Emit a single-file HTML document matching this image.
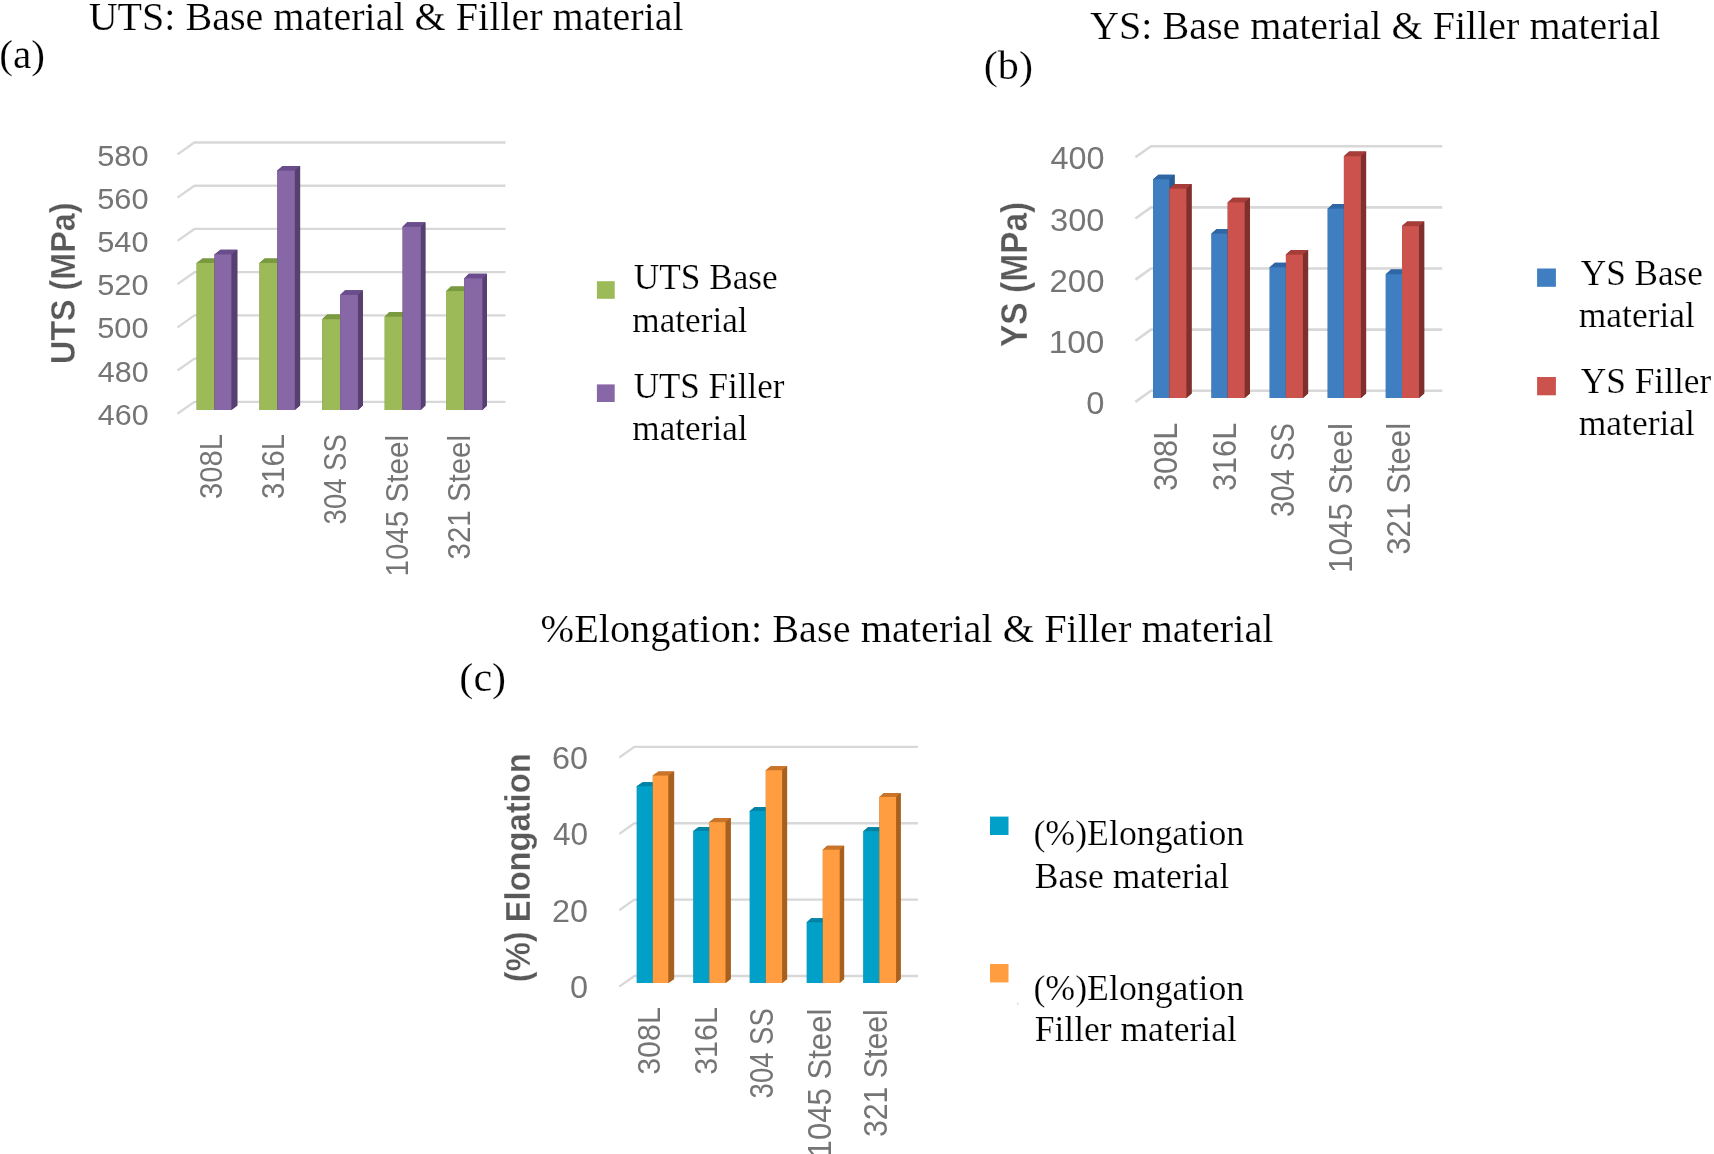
<!DOCTYPE html>
<html><head><meta charset="utf-8"><title>Figure</title>
<style>html,body{margin:0;padding:0;background:#fff;overflow:hidden}svg{display:block}#fig{filter:blur(0.45px)}</style></head>
<body><svg width="1714" height="1154" viewBox="0 0 1714 1154">
<rect width="1714" height="1154" fill="#fff"/>
<g id="fig">
<polyline points="177.50,154.40 194.40,142.50 505.50,142.50" fill="none" stroke="#d8d8d8" stroke-width="2.3" stroke-linejoin="round"/>
<polyline points="177.50,197.63 194.40,185.73 505.50,185.73" fill="none" stroke="#d8d8d8" stroke-width="2.3" stroke-linejoin="round"/>
<polyline points="177.50,240.86 194.40,228.96 505.50,228.96" fill="none" stroke="#d8d8d8" stroke-width="2.3" stroke-linejoin="round"/>
<polyline points="177.50,284.09 194.40,272.19 505.50,272.19" fill="none" stroke="#d8d8d8" stroke-width="2.3" stroke-linejoin="round"/>
<polyline points="177.50,327.32 194.40,315.42 505.50,315.42" fill="none" stroke="#d8d8d8" stroke-width="2.3" stroke-linejoin="round"/>
<polyline points="177.50,370.55 194.40,358.65 505.50,358.65" fill="none" stroke="#d8d8d8" stroke-width="2.3" stroke-linejoin="round"/>
<polyline points="177.50,413.78 194.40,401.88 505.50,401.88" fill="none" stroke="#d8d8d8" stroke-width="2.3" stroke-linejoin="round"/>
<polygon points="196.60,263.00 202.50,258.40 220.40,258.40 220.40,405.40 214.50,410.00 196.60,410.00" fill="#6f8a3a"/>
<polygon points="213.90,263.00 214.50,263.00 220.40,258.40 220.40,405.40 214.50,410.00 213.90,410.00" fill="#6f8a3a"/>
<polygon points="196.60,263.60 196.60,263.00 202.50,258.40 220.40,258.40 214.50,263.00 214.50,263.60" fill="#7a9a40"/>
<rect x="196.60" y="263.00" width="17.90" height="147.00" fill="#9dba59"/>
<polygon points="214.50,254.40 220.40,249.80 237.30,249.80 237.30,405.40 231.40,410.00 214.50,410.00" fill="#573f70"/>
<polygon points="230.80,254.40 231.40,254.40 237.30,249.80 237.30,405.40 231.40,410.00 230.80,410.00" fill="#573f70"/>
<polygon points="214.50,255.00 214.50,254.40 220.40,249.80 237.30,249.80 231.40,254.40 231.40,255.00" fill="#6a4d8c"/>
<rect x="214.50" y="254.40" width="16.90" height="155.60" fill="#8867a6"/>
<polygon points="259.40,263.00 264.70,258.40 282.60,258.40 282.60,405.40 277.30,410.00 259.40,410.00" fill="#6f8a3a"/>
<polygon points="276.70,263.00 277.30,263.00 282.60,258.40 282.60,405.40 277.30,410.00 276.70,410.00" fill="#6f8a3a"/>
<polygon points="259.40,263.60 259.40,263.00 264.70,258.40 282.60,258.40 277.30,263.00 277.30,263.60" fill="#7a9a40"/>
<rect x="259.40" y="263.00" width="17.90" height="147.00" fill="#9dba59"/>
<polygon points="277.30,170.60 282.60,166.00 300.10,166.00 300.10,405.40 294.80,410.00 277.30,410.00" fill="#573f70"/>
<polygon points="294.20,170.60 294.80,170.60 300.10,166.00 300.10,405.40 294.80,410.00 294.20,410.00" fill="#573f70"/>
<polygon points="277.30,171.20 277.30,170.60 282.60,166.00 300.10,166.00 294.80,170.60 294.80,171.20" fill="#6a4d8c"/>
<rect x="277.30" y="170.60" width="17.50" height="239.40" fill="#8867a6"/>
<polygon points="322.20,319.20 327.20,314.60 345.10,314.60 345.10,405.40 340.10,410.00 322.20,410.00" fill="#6f8a3a"/>
<polygon points="339.50,319.20 340.10,319.20 345.10,314.60 345.10,405.40 340.10,410.00 339.50,410.00" fill="#6f8a3a"/>
<polygon points="322.20,319.80 322.20,319.20 327.20,314.60 345.10,314.60 340.10,319.20 340.10,319.80" fill="#7a9a40"/>
<rect x="322.20" y="319.20" width="17.90" height="90.80" fill="#9dba59"/>
<polygon points="340.10,294.90 345.10,290.30 362.90,290.30 362.90,405.40 357.90,410.00 340.10,410.00" fill="#573f70"/>
<polygon points="357.30,294.90 357.90,294.90 362.90,290.30 362.90,405.40 357.90,410.00 357.30,410.00" fill="#573f70"/>
<polygon points="340.10,295.50 340.10,294.90 345.10,290.30 362.90,290.30 357.90,294.90 357.90,295.50" fill="#6a4d8c"/>
<rect x="340.10" y="294.90" width="17.80" height="115.10" fill="#8867a6"/>
<polygon points="384.70,316.70 389.30,312.10 407.20,312.10 407.20,405.40 402.60,410.00 384.70,410.00" fill="#6f8a3a"/>
<polygon points="402.00,316.70 402.60,316.70 407.20,312.10 407.20,405.40 402.60,410.00 402.00,410.00" fill="#6f8a3a"/>
<polygon points="384.70,317.30 384.70,316.70 389.30,312.10 407.20,312.10 402.60,316.70 402.60,317.30" fill="#7a9a40"/>
<rect x="384.70" y="316.70" width="17.90" height="93.30" fill="#9dba59"/>
<polygon points="402.60,226.80 407.20,222.20 425.40,222.20 425.40,405.40 420.80,410.00 402.60,410.00" fill="#573f70"/>
<polygon points="420.20,226.80 420.80,226.80 425.40,222.20 425.40,405.40 420.80,410.00 420.20,410.00" fill="#573f70"/>
<polygon points="402.60,227.40 402.60,226.80 407.20,222.20 425.40,222.20 420.80,226.80 420.80,227.40" fill="#6a4d8c"/>
<rect x="402.60" y="226.80" width="18.20" height="183.20" fill="#8867a6"/>
<polygon points="446.30,291.10 450.90,286.50 468.80,286.50 468.80,405.40 464.20,410.00 446.30,410.00" fill="#6f8a3a"/>
<polygon points="463.60,291.10 464.20,291.10 468.80,286.50 468.80,405.40 464.20,410.00 463.60,410.00" fill="#6f8a3a"/>
<polygon points="446.30,291.70 446.30,291.10 450.90,286.50 468.80,286.50 464.20,291.10 464.20,291.70" fill="#7a9a40"/>
<rect x="446.30" y="291.10" width="17.90" height="118.90" fill="#9dba59"/>
<polygon points="464.20,278.40 468.80,273.80 487.00,273.80 487.00,405.40 482.40,410.00 464.20,410.00" fill="#573f70"/>
<polygon points="481.80,278.40 482.40,278.40 487.00,273.80 487.00,405.40 482.40,410.00 481.80,410.00" fill="#573f70"/>
<polygon points="464.20,279.00 464.20,278.40 468.80,273.80 487.00,273.80 482.40,278.40 482.40,279.00" fill="#6a4d8c"/>
<rect x="464.20" y="278.40" width="18.20" height="131.60" fill="#8867a6"/>
<text transform="translate(97.27 165.50) scale(1.0390 1)" font-family='"Liberation Sans", sans-serif' font-size="29.60" fill="#757575">580</text>
<text transform="translate(97.27 208.70) scale(1.0390 1)" font-family='"Liberation Sans", sans-serif' font-size="29.60" fill="#757575">560</text>
<text transform="translate(97.27 251.90) scale(1.0390 1)" font-family='"Liberation Sans", sans-serif' font-size="29.60" fill="#757575">540</text>
<text transform="translate(97.27 295.10) scale(1.0390 1)" font-family='"Liberation Sans", sans-serif' font-size="29.60" fill="#757575">520</text>
<text transform="translate(97.27 338.30) scale(1.0390 1)" font-family='"Liberation Sans", sans-serif' font-size="29.60" fill="#757575">500</text>
<text transform="translate(97.79 381.50) scale(1.0282 1)" font-family='"Liberation Sans", sans-serif' font-size="29.60" fill="#757575">480</text>
<text transform="translate(97.79 424.70) scale(1.0282 1)" font-family='"Liberation Sans", sans-serif' font-size="29.60" fill="#757575">460</text>
<text transform="translate(221.80 499.07) rotate(-90) scale(0.9126 1)" font-family='"Liberation Sans", sans-serif' font-size="32.01" fill="#757575">308L</text>
<text transform="translate(284.10 499.07) rotate(-90) scale(0.9126 1)" font-family='"Liberation Sans", sans-serif' font-size="32.01" fill="#757575">316L</text>
<text transform="translate(346.20 524.41) rotate(-90) scale(0.8630 1)" font-family='"Liberation Sans", sans-serif' font-size="31.87" fill="#757575">304 SS</text>
<text transform="translate(408.00 576.57) rotate(-90) scale(0.9293 1)" font-family='"Liberation Sans", sans-serif' font-size="31.87" fill="#757575">1045 Steel</text>
<text transform="translate(469.90 559.38) rotate(-90) scale(0.9198 1)" font-family='"Liberation Sans", sans-serif' font-size="32.01" fill="#757575">321 Steel</text>
<text transform="translate(74.80 363.94) rotate(-90) scale(0.9244 1)" font-family='"Liberation Sans", sans-serif' font-size="34.95" font-weight="700" stroke="#fff" stroke-width="0.3" fill="#595959">UTS (MPa)</text>
<text transform="translate(88.70 29.60) scale(1.0145 1)" font-family='"Liberation Serif", serif' font-size="39.50" stroke="#fff" stroke-width="0.2" fill="#000">UTS: Base material &amp; Filler material</text>
<text transform="translate(-0.79 68.30) scale(1.0440 1)" font-family='"Liberation Serif", serif' font-size="39.50" stroke="#fff" stroke-width="0.2" fill="#000">(a)</text>
<rect x="596.9" y="281.2" width="17.8" height="17.6" fill="#9dba59"/>
<rect x="596.9" y="384.4" width="17.8" height="17.6" fill="#8867a6"/>
<text transform="translate(633.69 289.30) scale(0.9996 1)" font-family='"Liberation Serif", serif' font-size="35.30" stroke="#fff" stroke-width="0.2" fill="#000">UTS Base</text>
<text transform="translate(632.30 331.80) scale(0.9978 1)" font-family='"Liberation Serif", serif' font-size="35.30" stroke="#fff" stroke-width="0.2" fill="#000">material</text>
<text transform="translate(633.70 397.50) scale(0.9918 1)" font-family='"Liberation Serif", serif' font-size="35.30" stroke="#fff" stroke-width="0.2" fill="#000">UTS Filler</text>
<text transform="translate(632.30 440.00) scale(0.9978 1)" font-family='"Liberation Serif", serif' font-size="35.30" stroke="#fff" stroke-width="0.2" fill="#000">material</text>
<polyline points="1135.40,157.30 1151.00,146.20 1442.25,146.20" fill="none" stroke="#d8d8d8" stroke-width="2.6" stroke-linejoin="round"/>
<polyline points="1135.40,218.45 1151.00,207.35 1442.25,207.35" fill="none" stroke="#d8d8d8" stroke-width="2.6" stroke-linejoin="round"/>
<polyline points="1135.40,279.60 1151.00,268.50 1442.25,268.50" fill="none" stroke="#d8d8d8" stroke-width="2.6" stroke-linejoin="round"/>
<polyline points="1135.40,340.75 1151.00,329.65 1442.25,329.65" fill="none" stroke="#d8d8d8" stroke-width="2.6" stroke-linejoin="round"/>
<polyline points="1135.40,401.90 1151.00,390.80 1442.25,390.80" fill="none" stroke="#d8d8d8" stroke-width="2.6" stroke-linejoin="round"/>
<polygon points="1153.20,179.30 1158.40,174.70 1174.60,174.70 1174.60,393.40 1169.40,398.00 1153.20,398.00" fill="#2a5a92"/>
<polygon points="1168.80,179.30 1169.40,179.30 1174.60,174.70 1174.60,393.40 1169.40,398.00 1168.80,398.00" fill="#2a5a92"/>
<polygon points="1153.20,179.90 1153.20,179.30 1158.40,174.70 1174.60,174.70 1169.40,179.30 1169.40,179.90" fill="#2f66a6"/>
<rect x="1153.20" y="179.30" width="16.20" height="218.70" fill="#3f7fc1"/>
<polygon points="1169.40,188.60 1174.60,184.00 1191.60,184.00 1191.60,393.40 1186.40,398.00 1169.40,398.00" fill="#7f2f2c"/>
<polygon points="1185.80,188.60 1186.40,188.60 1191.60,184.00 1191.60,393.40 1186.40,398.00 1185.80,398.00" fill="#7f2f2c"/>
<polygon points="1169.40,189.20 1169.40,188.60 1174.60,184.00 1191.60,184.00 1186.40,188.60 1186.40,189.20" fill="#a63d39"/>
<rect x="1169.40" y="188.60" width="17.00" height="209.40" fill="#cc524d"/>
<polygon points="1211.50,233.60 1216.70,229.00 1232.90,229.00 1232.90,393.40 1227.70,398.00 1211.50,398.00" fill="#2a5a92"/>
<polygon points="1227.10,233.60 1227.70,233.60 1232.90,229.00 1232.90,393.40 1227.70,398.00 1227.10,398.00" fill="#2a5a92"/>
<polygon points="1211.50,234.20 1211.50,233.60 1216.70,229.00 1232.90,229.00 1227.70,233.60 1227.70,234.20" fill="#2f66a6"/>
<rect x="1211.50" y="233.60" width="16.20" height="164.40" fill="#3f7fc1"/>
<polygon points="1227.70,202.40 1232.90,197.80 1249.90,197.80 1249.90,393.40 1244.70,398.00 1227.70,398.00" fill="#7f2f2c"/>
<polygon points="1244.10,202.40 1244.70,202.40 1249.90,197.80 1249.90,393.40 1244.70,398.00 1244.10,398.00" fill="#7f2f2c"/>
<polygon points="1227.70,203.00 1227.70,202.40 1232.90,197.80 1249.90,197.80 1244.70,202.40 1244.70,203.00" fill="#a63d39"/>
<rect x="1227.70" y="202.40" width="17.00" height="195.60" fill="#cc524d"/>
<polygon points="1269.70,267.30 1274.90,262.70 1291.10,262.70 1291.10,393.40 1285.90,398.00 1269.70,398.00" fill="#2a5a92"/>
<polygon points="1285.30,267.30 1285.90,267.30 1291.10,262.70 1291.10,393.40 1285.90,398.00 1285.30,398.00" fill="#2a5a92"/>
<polygon points="1269.70,267.90 1269.70,267.30 1274.90,262.70 1291.10,262.70 1285.90,267.30 1285.90,267.90" fill="#2f66a6"/>
<rect x="1269.70" y="267.30" width="16.20" height="130.70" fill="#3f7fc1"/>
<polygon points="1285.90,254.60 1291.10,250.00 1308.10,250.00 1308.10,393.40 1302.90,398.00 1285.90,398.00" fill="#7f2f2c"/>
<polygon points="1302.30,254.60 1302.90,254.60 1308.10,250.00 1308.10,393.40 1302.90,398.00 1302.30,398.00" fill="#7f2f2c"/>
<polygon points="1285.90,255.20 1285.90,254.60 1291.10,250.00 1308.10,250.00 1302.90,254.60 1302.90,255.20" fill="#a63d39"/>
<rect x="1285.90" y="254.60" width="17.00" height="143.40" fill="#cc524d"/>
<polygon points="1327.70,208.70 1332.90,204.10 1349.10,204.10 1349.10,393.40 1343.90,398.00 1327.70,398.00" fill="#2a5a92"/>
<polygon points="1343.30,208.70 1343.90,208.70 1349.10,204.10 1349.10,393.40 1343.90,398.00 1343.30,398.00" fill="#2a5a92"/>
<polygon points="1327.70,209.30 1327.70,208.70 1332.90,204.10 1349.10,204.10 1343.90,208.70 1343.90,209.30" fill="#2f66a6"/>
<rect x="1327.70" y="208.70" width="16.20" height="189.30" fill="#3f7fc1"/>
<polygon points="1343.90,156.20 1349.10,151.60 1366.10,151.60 1366.10,393.40 1360.90,398.00 1343.90,398.00" fill="#7f2f2c"/>
<polygon points="1360.30,156.20 1360.90,156.20 1366.10,151.60 1366.10,393.40 1360.90,398.00 1360.30,398.00" fill="#7f2f2c"/>
<polygon points="1343.90,156.80 1343.90,156.20 1349.10,151.60 1366.10,151.60 1360.90,156.20 1360.90,156.80" fill="#a63d39"/>
<rect x="1343.90" y="156.20" width="17.00" height="241.80" fill="#cc524d"/>
<polygon points="1385.80,274.20 1391.00,269.60 1407.20,269.60 1407.20,393.40 1402.00,398.00 1385.80,398.00" fill="#2a5a92"/>
<polygon points="1401.40,274.20 1402.00,274.20 1407.20,269.60 1407.20,393.40 1402.00,398.00 1401.40,398.00" fill="#2a5a92"/>
<polygon points="1385.80,274.80 1385.80,274.20 1391.00,269.60 1407.20,269.60 1402.00,274.20 1402.00,274.80" fill="#2f66a6"/>
<rect x="1385.80" y="274.20" width="16.20" height="123.80" fill="#3f7fc1"/>
<polygon points="1402.00,226.10 1407.20,221.50 1424.20,221.50 1424.20,393.40 1419.00,398.00 1402.00,398.00" fill="#7f2f2c"/>
<polygon points="1418.40,226.10 1419.00,226.10 1424.20,221.50 1424.20,393.40 1419.00,398.00 1418.40,398.00" fill="#7f2f2c"/>
<polygon points="1402.00,226.70 1402.00,226.10 1407.20,221.50 1424.20,221.50 1419.00,226.10 1419.00,226.70" fill="#a63d39"/>
<rect x="1402.00" y="226.10" width="17.00" height="171.90" fill="#cc524d"/>
<text transform="translate(1050.44 169.40) scale(1.0275 1)" font-family='"Liberation Sans", sans-serif' font-size="31.50" fill="#757575">400</text>
<text transform="translate(1050.00 230.50) scale(1.0361 1)" font-family='"Liberation Sans", sans-serif' font-size="31.50" fill="#757575">300</text>
<text transform="translate(1049.55 291.60) scale(1.0448 1)" font-family='"Liberation Sans", sans-serif' font-size="31.50" fill="#757575">200</text>
<text transform="translate(1048.63 352.70) scale(1.0627 1)" font-family='"Liberation Sans", sans-serif' font-size="31.50" fill="#757575">100</text>
<text transform="translate(1086.30 413.80) scale(1.0384 1)" font-family='"Liberation Sans", sans-serif' font-size="31.50" fill="#757575">0</text>
<text transform="translate(1177.20 491.03) rotate(-90) scale(0.9504 1)" font-family='"Liberation Sans", sans-serif' font-size="32.30" fill="#757575">308L</text>
<text transform="translate(1235.80 491.03) rotate(-90) scale(0.9379 1)" font-family='"Liberation Sans", sans-serif' font-size="32.73" fill="#757575">316L</text>
<text transform="translate(1293.60 517.05) rotate(-90) scale(0.8824 1)" font-family='"Liberation Sans", sans-serif' font-size="32.44" fill="#757575">304 SS</text>
<text transform="translate(1351.50 572.90) rotate(-90) scale(0.9709 1)" font-family='"Liberation Sans", sans-serif' font-size="32.30" fill="#757575">1045 Steel</text>
<text transform="translate(1409.80 554.74) rotate(-90) scale(0.9530 1)" font-family='"Liberation Sans", sans-serif' font-size="32.73" fill="#757575">321 Steel</text>
<text transform="translate(1026.60 347.06) rotate(-90) scale(0.9212 1)" font-family='"Liberation Sans", sans-serif' font-size="36.41" font-weight="700" stroke="#fff" stroke-width="0.3" fill="#595959">YS (MPa)</text>
<text transform="translate(1090.10 38.75) scale(1.0015 1)" font-family='"Liberation Serif", serif' font-size="40.00" stroke="#fff" stroke-width="0.2" fill="#000">YS: Base material &amp; Filler material</text>
<text transform="translate(983.77 78.75) scale(1.0826 1)" font-family='"Liberation Serif", serif' font-size="39.00" stroke="#fff" stroke-width="0.2" fill="#000">(b)</text>
<rect x="1537.1" y="268.5" width="18.8" height="18.3" fill="#3f7fc1"/>
<rect x="1537.1" y="377" width="18.8" height="18.3" fill="#cc524d"/>
<text transform="translate(1580.75 285.00) scale(0.9969 1)" font-family='"Liberation Serif", serif' font-size="35.30" stroke="#fff" stroke-width="0.2" fill="#000">YS Base</text>
<text transform="translate(1578.69 327.40) scale(1.0057 1)" font-family='"Liberation Serif", serif' font-size="35.30" stroke="#fff" stroke-width="0.2" fill="#000">material</text>
<text transform="translate(1580.75 392.60) scale(1.0000 1)" font-family='"Liberation Serif", serif' font-size="35.30" stroke="#fff" stroke-width="0.2" fill="#000">YS Filler</text>
<text transform="translate(1578.69 435.00) scale(1.0057 1)" font-family='"Liberation Serif", serif' font-size="35.30" stroke="#fff" stroke-width="0.2" fill="#000">material</text>
<polyline points="619.30,757.50 634.30,746.90 918.00,746.90" fill="none" stroke="#d8d8d8" stroke-width="2.3" stroke-linejoin="round"/>
<polyline points="619.30,833.87 634.30,823.27 918.00,823.27" fill="none" stroke="#d8d8d8" stroke-width="2.3" stroke-linejoin="round"/>
<polyline points="619.30,910.24 634.30,899.64 918.00,899.64" fill="none" stroke="#d8d8d8" stroke-width="2.3" stroke-linejoin="round"/>
<polyline points="619.30,986.61 634.30,976.01 918.00,976.01" fill="none" stroke="#d8d8d8" stroke-width="2.3" stroke-linejoin="round"/>
<polygon points="636.80,786.20 642.60,782.20 658.60,782.20 658.60,979.00 652.80,983.00 636.80,983.00" fill="#007896"/>
<polygon points="652.20,786.20 652.80,786.20 658.60,782.20 658.60,979.00 652.80,983.00 652.20,983.00" fill="#007896"/>
<polygon points="636.80,786.80 636.80,786.20 642.60,782.20 658.60,782.20 652.80,786.20 652.80,786.80" fill="#0083a6"/>
<rect x="636.80" y="786.20" width="16.00" height="196.80" fill="#00a0c8"/>
<polygon points="652.80,775.60 658.60,771.60 674.10,771.60 674.10,979.00 668.30,983.00 652.80,983.00" fill="#a8601f"/>
<polygon points="667.70,775.60 668.30,775.60 674.10,771.60 674.10,979.00 668.30,983.00 667.70,983.00" fill="#a8601f"/>
<polygon points="652.80,776.20 652.80,775.60 658.60,771.60 674.10,771.60 668.30,775.60 668.30,776.20" fill="#c97428"/>
<rect x="652.80" y="775.60" width="15.50" height="207.40" fill="#ff9d40"/>
<polygon points="693.40,830.90 698.60,826.90 714.60,826.90 714.60,979.00 709.40,983.00 693.40,983.00" fill="#007896"/>
<polygon points="708.80,830.90 709.40,830.90 714.60,826.90 714.60,979.00 709.40,983.00 708.80,983.00" fill="#007896"/>
<polygon points="693.40,831.50 693.40,830.90 698.60,826.90 714.60,826.90 709.40,830.90 709.40,831.50" fill="#0083a6"/>
<rect x="693.40" y="830.90" width="16.00" height="152.10" fill="#00a0c8"/>
<polygon points="709.40,822.10 714.60,818.10 730.70,818.10 730.70,979.00 725.50,983.00 709.40,983.00" fill="#a8601f"/>
<polygon points="724.90,822.10 725.50,822.10 730.70,818.10 730.70,979.00 725.50,983.00 724.90,983.00" fill="#a8601f"/>
<polygon points="709.40,822.70 709.40,822.10 714.60,818.10 730.70,818.10 725.50,822.10 725.50,822.70" fill="#c97428"/>
<rect x="709.40" y="822.10" width="16.10" height="160.90" fill="#ff9d40"/>
<polygon points="749.80,810.90 754.80,806.90 770.80,806.90 770.80,979.00 765.80,983.00 749.80,983.00" fill="#007896"/>
<polygon points="765.20,810.90 765.80,810.90 770.80,806.90 770.80,979.00 765.80,983.00 765.20,983.00" fill="#007896"/>
<polygon points="749.80,811.50 749.80,810.90 754.80,806.90 770.80,806.90 765.80,810.90 765.80,811.50" fill="#0083a6"/>
<rect x="749.80" y="810.90" width="16.00" height="172.10" fill="#00a0c8"/>
<polygon points="765.80,770.20 770.80,766.20 787.10,766.20 787.10,979.00 782.10,983.00 765.80,983.00" fill="#a8601f"/>
<polygon points="781.50,770.20 782.10,770.20 787.10,766.20 787.10,979.00 782.10,983.00 781.50,983.00" fill="#a8601f"/>
<polygon points="765.80,770.80 765.80,770.20 770.80,766.20 787.10,766.20 782.10,770.20 782.10,770.80" fill="#c97428"/>
<rect x="765.80" y="770.20" width="16.30" height="212.80" fill="#ff9d40"/>
<polygon points="806.80,922.30 811.20,918.30 827.20,918.30 827.20,979.00 822.80,983.00 806.80,983.00" fill="#007896"/>
<polygon points="822.20,922.30 822.80,922.30 827.20,918.30 827.20,979.00 822.80,983.00 822.20,983.00" fill="#007896"/>
<polygon points="806.80,922.90 806.80,922.30 811.20,918.30 827.20,918.30 822.80,922.30 822.80,922.90" fill="#0083a6"/>
<rect x="806.80" y="922.30" width="16.00" height="60.70" fill="#00a0c8"/>
<polygon points="822.80,849.70 827.20,845.70 844.10,845.70 844.10,979.00 839.70,983.00 822.80,983.00" fill="#a8601f"/>
<polygon points="839.10,849.70 839.70,849.70 844.10,845.70 844.10,979.00 839.70,983.00 839.10,983.00" fill="#a8601f"/>
<polygon points="822.80,850.30 822.80,849.70 827.20,845.70 844.10,845.70 839.70,849.70 839.70,850.30" fill="#c97428"/>
<rect x="822.80" y="849.70" width="16.90" height="133.30" fill="#ff9d40"/>
<polygon points="863.40,831.20 868.00,827.20 884.00,827.20 884.00,979.00 879.40,983.00 863.40,983.00" fill="#007896"/>
<polygon points="878.80,831.20 879.40,831.20 884.00,827.20 884.00,979.00 879.40,983.00 878.80,983.00" fill="#007896"/>
<polygon points="863.40,831.80 863.40,831.20 868.00,827.20 884.00,827.20 879.40,831.20 879.40,831.80" fill="#0083a6"/>
<rect x="863.40" y="831.20" width="16.00" height="151.80" fill="#00a0c8"/>
<polygon points="879.40,796.90 884.00,792.90 900.70,792.90 900.70,979.00 896.10,983.00 879.40,983.00" fill="#a8601f"/>
<polygon points="895.50,796.90 896.10,796.90 900.70,792.90 900.70,979.00 896.10,983.00 895.50,983.00" fill="#a8601f"/>
<polygon points="879.40,797.50 879.40,796.90 884.00,792.90 900.70,792.90 896.10,796.90 896.10,797.50" fill="#c97428"/>
<rect x="879.40" y="796.90" width="16.70" height="186.10" fill="#ff9d40"/>
<text transform="translate(552.08 769.05) scale(1.0502 1)" font-family='"Liberation Sans", sans-serif' font-size="30.80" fill="#757575">60</text>
<text transform="translate(552.96 845.40) scale(1.0235 1)" font-family='"Liberation Sans", sans-serif' font-size="30.80" fill="#757575">40</text>
<text transform="translate(552.08 921.75) scale(1.0502 1)" font-family='"Liberation Sans", sans-serif' font-size="30.80" fill="#757575">20</text>
<text transform="translate(570.01 998.10) scale(1.0552 1)" font-family='"Liberation Sans", sans-serif' font-size="30.80" fill="#757575">0</text>
<text transform="translate(660.20 1074.82) rotate(-90) scale(0.9589 1)" font-family='"Liberation Sans", sans-serif' font-size="31.72" fill="#757575">308L</text>
<text transform="translate(717.10 1074.82) rotate(-90) scale(0.9545 1)" font-family='"Liberation Sans", sans-serif' font-size="31.87" fill="#757575">316L</text>
<text transform="translate(773.30 1098.41) rotate(-90) scale(0.8515 1)" font-family='"Liberation Sans", sans-serif' font-size="32.30" fill="#757575">304 SS</text>
<text transform="translate(830.50 1157.39) rotate(-90) scale(0.9386 1)" font-family='"Liberation Sans", sans-serif' font-size="33.16" fill="#757575">1045 Steel</text>
<text transform="translate(887.10 1137.11) rotate(-90) scale(0.9248 1)" font-family='"Liberation Sans", sans-serif' font-size="32.73" fill="#757575">321 Steel</text>
<text transform="translate(530.00 982.14) rotate(-90) scale(0.9091 1)" font-family='"Liberation Sans", sans-serif' font-size="35.97" font-weight="700" stroke="#fff" stroke-width="0.3" fill="#595959">(%) Elongation</text>
<text transform="translate(540.56 641.50) scale(1.0078 1)" font-family='"Liberation Serif", serif' font-size="40.00" stroke="#fff" stroke-width="0.2" fill="#000">%Elongation: Base material &amp; Filler material</text>
<text transform="translate(459.37 690.60) scale(1.0663 1)" font-family='"Liberation Serif", serif' font-size="39.50" stroke="#fff" stroke-width="0.2" fill="#000">(c)</text>
<rect x="990" y="816.6" width="18.5" height="18.4" fill="#00a0c8"/>
<rect x="990" y="964" width="18.5" height="18.4" fill="#ff9d40"/>
<text transform="translate(1033.45 845.00) scale(1.0143 1)" font-family='"Liberation Serif", serif' font-size="35.30" stroke="#fff" stroke-width="0.2" fill="#000">(%)Elongation</text>
<text transform="translate(1034.65 887.80) scale(1.0083 1)" font-family='"Liberation Serif", serif' font-size="35.30" stroke="#fff" stroke-width="0.2" fill="#000">Base material</text>
<text transform="translate(1033.45 999.75) scale(1.0143 1)" font-family='"Liberation Serif", serif' font-size="35.30" stroke="#fff" stroke-width="0.2" fill="#000">(%)Elongation</text>
<text transform="translate(1034.65 1041.40) scale(1.0066 1)" font-family='"Liberation Serif", serif' font-size="35.30" stroke="#fff" stroke-width="0.2" fill="#000">Filler material</text>
<ellipse cx="1017.8" cy="1003.8" rx="1" ry="1.5" fill="#e3e3e3"/>
</g>
</svg></body></html>
